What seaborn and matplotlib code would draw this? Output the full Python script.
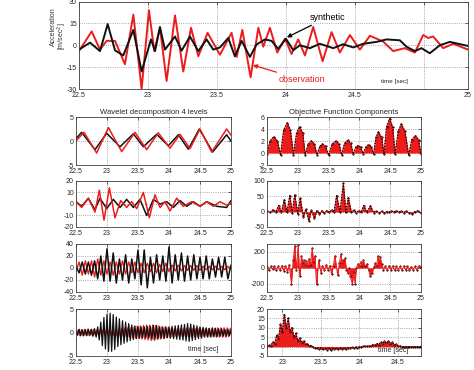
import numpy as np
import matplotlib
matplotlib.use('Agg')
import matplotlib.pyplot as plt
import seaborn as sns

# ---- top panel: acceleration (extrema)
t_obs = [22.500, 22.592, 22.652, 22.700, 22.761, 22.833, 22.894, 22.954, 23.007, 23.046,
         23.087, 23.135, 23.196, 23.256, 23.312, 23.365, 23.432, 23.522, 23.606, 23.643,
         23.684, 23.744, 23.800, 23.836, 23.884, 23.937, 23.993, 24.041, 24.089, 24.138,
         24.198, 24.266, 24.331, 24.391, 24.464, 24.536, 24.609, 24.705, 24.778, 24.862,
         24.935, 24.995, 25.031, 25.068, 25.140, 25.213, 25.321]
a_obs = [-4, 9.5, -3, 3, 3, -13, 21, -30, 24, -4,
         12, -24.5, 20.5, -18, 12, -7.5, 8.5, -6.5, 8.5, -8,
         10.5, -22, 12, -1, 12, -5, 4.5, -6, 4, -7,
         12.5, -11, 9, -5, 7, -3, 6.5, 2.5, -4, -2,
         -5, 7, 5, 6, -2, 1, -3]
t_syn = [22.500, 22.580, 22.652, 22.708, 22.761, 22.821, 22.894, 22.954, 23.022, 23.051,
         23.087, 23.123, 23.196, 23.244, 23.304, 23.365, 23.425, 23.473, 23.522, 23.582,
         23.630, 23.679, 23.739, 23.787, 23.848, 23.896, 23.944, 24.000, 24.053, 24.101,
         24.174, 24.246, 24.343, 24.415, 24.488, 24.560, 24.657, 24.729, 24.826, 24.874,
         24.935, 24.983, 25.043, 25.116, 25.188, 25.321]
a_syn = [-3, 1.8, -4, 14.5, -3.5, -7, 10.5, -18, 4, -4,
         12.5, -3, 6, -3.7, 6, -4, 4, -3, -1.5, 5,
         -7.6, 3, -8, 0.5, 4, 3, -2.5, 4.5, -3.4, 0,
         -2, 1, -2, 0.7, -1.5, 1, 2.3, 4, 3.4, -1,
         -4, -2, -5.5, 0, 2.3, -0.5]

# ---- wavelet levels (left column)
t_w1_obs = [22.500, 22.629, 22.833, 23.022, 23.237, 23.452, 23.640, 23.828, 24.016, 24.177,
            24.339, 24.500, 24.688, 24.930, 25.000]
w1_obs = [0, 1.8, -2.5, 2.8, -2.2, 1.8, -1.8, 1.7, -1.5, 1.4, -1.6, 2.5, -2.3, 2.5, 1.2]
t_w1_syn = [22.500, 22.591, 22.806, 22.995, 23.210, 23.425, 23.586, 23.801, 23.989, 24.151,
            24.312, 24.489, 24.704, 24.930, 25.000]
w1_syn = [0.5, 1.8, -1.8, 1.6, -1.2, 1.5, -1.2, 1.4, -1.0, 1.3, -1.7, 2.5, -2.3, 1.3, 0]

t_w2_obs = [22.500, 22.591, 22.699, 22.806, 22.876, 22.952, 23.038, 23.129, 23.220, 23.317,
            23.398, 23.478, 23.586, 23.683, 23.774, 23.855, 23.935, 24.016, 24.124, 24.231,
            24.366, 24.500, 24.608, 24.715, 24.823, 24.930, 25.000]
w2_obs = [2, -3, 5, -7, 12, -14, 14, -12, 3, -3,
          2, -4, 10, -12, 8, -3, 2, -6, 5, -2,
          2, -2, 2, -2, 2, -1, 1]
t_w2_syn = [22.500, 22.591, 22.699, 22.806, 22.887, 22.995, 23.102, 23.210, 23.317, 23.425,
            23.532, 23.640, 23.747, 23.855, 23.962, 24.070, 24.177, 24.285, 24.392, 24.500,
            24.608, 24.769, 24.930, 25.000]
w2_syn = [2, -2, 5, -5, 5, -4, 4, -3, 4, -3,
          4, -10, 4, 0, 2, -3, 3, -2, 2, -2,
          2, -2, -3, 3]

t_w3 = np.linspace(22.5, 25.0, 51)
w3_syn = [3, -8, 10, -10, 10, -12, 12, -18, 20, -22,
          32, -22, 25, -25, 15, -20, 22, -25, 15, -18,
          30, -28, 30, -33, 18, -25, 22, -20, 20, -22,
          35, -25, 22, -20, 25, -22, 20, -20, 22, -18,
          18, -18, 20, -18, 15, -15, 18, -15, 18, -18, 5]
w3_obs = [-5, 10, -12, 12, -10, 12, -15, 15, -12, 12,
          -10, 10, -12, 10, -10, 12, -10, 10, -8, 10,
          -8, 8, -8, 8, -6, 8, -8, 6, -6, 8,
          -6, 5, -5, 5, -5, 4, -4, 4, -4, 4,
          -4, 3, -3, 3, -3, 3, -3, 3, -3, 3, -2]

t_w4_syn = np.linspace(22.5, 25.0, 101)
t_w4_obs = np.linspace(22.5125, 25.0125, 101)
w4_syn = [0.3, -0.6, 0.7, -0.7, 0.6, -0.7, 0.6, -0.7, 0.7, -0.6, 0.7, -0.8, 0.8, -1.0, 1.2,
          -1.6, 2.2, -2.8, 3.2, -3.5, 3.9, -4.0, 4.1, -4.0, 3.8, -3.6, 3.3, -3.0, 2.9, -2.6,
          2.5, -2.3, 2.2, -2.0, 1.9, -1.7, 1.6, -1.5, 1.4, -1.3, 1.3, -1.2, 1.2, -1.1, 1.2,
          -1.2, 1.3, -1.2, 1.3, -1.4, 1.5, -1.4, 1.5, -1.3, 1.2, -1.2, 1.1, -1.2, 1.2, -1.1,
          1.2, -1.2, 1.3, -1.3, 1.4, -1.4, 1.5, -1.5, 1.6, -1.6, 1.7, -1.8, 1.9, -1.9, 1.8,
          -1.7, 1.6, -1.5, 1.4, -1.3, 1.2, -1.2, 1.1, -1.0, 1.0, -1.0, 0.9, -1.0, 1.0, -0.9,
          0.9, -0.9, 0.8, -0.8, 0.8, -0.8, 0.7, -0.8, 0.7, -0.7, 0.5]
w4_obs = [-0.3, 0.6, -0.7, 0.6, -0.7, 0.7, -0.6, 0.7, -0.7, 0.6, -0.7, 0.7, -0.6, 0.6, -0.6,
          0.5, -0.5, 0.6, -0.6, 0.5, -0.6, 0.6, -0.6, 0.6, -0.6, 0.7, -0.7, 0.7, -0.8, 0.8,
          -0.8, 0.9, -0.9, 1.0, -1.0, 1.1, -1.1, 1.2, -1.2, 1.3, -1.3, 1.4, -1.4, 1.5, -1.5,
          1.6, -1.6, 1.6, -1.7, 1.6, -1.7, 1.5, -1.5, 1.4, -1.4, 1.3, -1.3, 1.2, -1.1, 1.0,
          -1.0, 0.9, -0.9, 0.8, -0.8, 0.8, -0.8, 0.8, -0.8, 0.8, -0.8, 0.9, -0.9, 0.9, -0.9,
          0.9, -0.9, 0.9, -0.9, 0.9, -0.9, 0.8, -0.8, 0.8, -0.8, 0.8, -0.8, 0.8, -0.9, 0.9,
          -1.0, 1.0, -1.0, 1.0, -1.0, 1.0, -1.0, 1.0, -0.9, 0.9, -0.6]

# ---- objective function components (right column)
t_f1 = [22.50, 22.55, 22.61, 22.67, 22.72, 22.77, 22.83, 22.88, 22.93, 22.98,
        23.03, 23.08, 23.12, 23.17, 23.22, 23.27, 23.31, 23.36, 23.40, 23.45,
        23.50, 23.56, 23.62, 23.67, 23.71, 23.76, 23.81, 23.86, 23.90, 23.94,
        23.98, 24.02, 24.06, 24.11, 24.15, 24.19, 24.23, 24.27, 24.31, 24.36,
        24.40, 24.44, 24.49, 24.54, 24.58, 24.63, 24.68, 24.74, 24.80, 24.85,
        24.91, 24.96, 25.00]
f1 = [-0.2, 2.0, 2.7, 2.0, -0.4, 3.8, 5.0, 3.8, -0.3, 3.3,
      4.4, 3.3, -0.3, 1.5, 2.0, 1.5, -0.3, 1.1, 1.5, 1.1,
      -0.4, 1.5, 2.0, 1.5, -0.3, 1.6, 2.1, 1.6, -0.2, 0.95,
      1.25, 0.95, -0.1, 1.05, 1.4, 1.05, -0.2, 2.6, 3.5, 2.6,
      -0.2, 4.3, 5.7, 4.3, -0.2, 3.6, 4.8, 3.6, -0.4, 2.2,
      2.9, 2.2, -0.2]

t_f2 = [22.50, 22.55, 22.60, 22.645, 22.69, 22.735, 22.78, 22.825, 22.87, 22.91,
        22.95, 23.00, 23.04, 23.09, 23.13, 23.18, 23.22, 23.27, 23.31, 23.35,
        23.39, 23.43, 23.47, 23.51, 23.55, 23.59, 23.63, 23.685, 23.74, 23.78,
        23.82, 23.87, 23.91, 23.95, 23.99, 24.03, 24.07, 24.12, 24.18, 24.23,
        24.27, 24.32, 24.36, 24.40, 24.44, 24.48, 24.52, 24.56, 24.60, 24.64,
        24.68, 24.72, 24.76, 24.80, 24.86, 24.90, 24.95, 25.00]
f2 = [2, -2, 6, -1, 20, -2, 38, -2, 52, -4,
      55, -6, 45, -19, 8, -30, 4, -22, 3, -8,
      2, -4, 3, -2, 5, -1, 52, -1, 92, -2,
      45, -2, 4, -3, 3, -2, 20, -2, 18, -3,
      2, -4, 1, -5, 0, -2, 2, -1, 3, -2,
      2, -3, 2, -4, -7, 0, 2, -4]

t_f3 = [22.50, 22.53, 22.56, 22.59, 22.62, 22.65, 22.68, 22.71, 22.74, 22.77,
        22.80, 22.83, 22.86, 22.897, 22.925, 22.951, 22.975, 23.005, 23.03, 23.06,
        23.08, 23.10, 23.12, 23.14, 23.16, 23.18, 23.205, 23.234, 23.255, 23.277,
        23.304, 23.34, 23.375, 23.40, 23.43, 23.46, 23.49, 23.52, 23.549, 23.575,
        23.603, 23.647, 23.675, 23.70, 23.72, 23.74, 23.766, 23.79, 23.81, 23.83,
        23.85, 23.886, 23.91, 23.93, 23.95, 23.973, 24.00, 24.027, 24.045, 24.065,
        24.09, 24.12, 24.15, 24.174, 24.21, 24.235, 24.255, 24.28, 24.30, 24.32,
        24.337, 24.364, 24.39, 24.42, 24.45, 24.48, 24.51, 24.54, 24.57, 24.60,
        24.63, 24.66, 24.69, 24.72, 24.75, 24.78, 24.81, 24.84, 24.87, 24.90,
        24.93, 24.96, 25.00]
f3 = [10, -20, 20, -15, 25, -25, 20, -30, 30, -35,
      25, -50, 40, -200, 100, 280, -30, 290, -100, 150,
      60, 100, 40, 90, 20, 110, 40, 250, 80, 150,
      -200, 100, -60, 30, -30, 40, -20, 30, -80, 20,
      150, -90, 60, 170, 60, 100, 120, -20, -60, 0,
      -100, -200, -50, -200, 0, 50, 20, 80, 30, 100,
      20, 50, -20, -100, -60, 10, 60, 20, 150, 60,
      140, 50, -20, 20, -30, 30, -20, 25, -30, 20,
      -25, 20, -30, 25, -20, 20, -30, 15, -25, 20,
      -20, 25, 10]

t_f4 = [22.80, 22.825, 22.85, 22.875, 22.90, 22.925, 22.95, 22.975, 23.00, 23.025,
        23.05, 23.075, 23.10, 23.125, 23.15, 23.175, 23.20, 23.225, 23.25, 23.275,
        23.30, 23.325, 23.35, 23.375, 23.40, 23.425, 23.45, 23.475, 23.50, 23.525,
        23.55, 23.575, 23.60, 23.625, 23.65, 23.675, 23.70, 23.725, 23.75, 23.775,
        23.80, 23.825, 23.85, 23.875, 23.90, 23.925, 23.95, 23.975, 24.00, 24.025,
        24.05, 24.075, 24.10, 24.125, 24.15, 24.175, 24.20, 24.225, 24.25, 24.275,
        24.30, 24.325, 24.35, 24.375, 24.40, 24.425, 24.45, 24.475, 24.50, 24.525,
        24.55, 24.575, 24.60, 24.625, 24.65, 24.675, 24.70, 24.725, 24.75, 24.775, 24.80]
f4 = [0.3, 0.8, 0.4, 2.5, 1.5, 6.0, 4.0, 12.0, 8.0, 17.0,
      10.0, 15.0, 8.0, 10.0, 5.0, 7.0, 3.0, 4.5, 2.0, 3.0,
      1.2, 1.5, 0.4, 0.5, -0.3, -0.8, -0.5, -1.2, -0.8, -1.5,
      -1.0, -1.6, -1.0, -1.7, -1.0, -1.5, -1.0, -1.5, -0.8, -1.4,
      -0.8, -1.2, -0.6, -1.0, -0.4, -0.7, -0.3, -0.5, -0.1, -0.2,
      0.1, 0.2, 0.1, 0.4, 0.3, 1.0, 0.6, 1.6, 1.0, 2.3,
      1.5, 2.8, 1.8, 3.0, 1.6, 2.3, 1.0, 1.2, 0.3, 0.3,
      0, 0, 0, 0, 0, 0, 0, 0, 0, 0, 0]

RED = '#ec1c1c'
BLK = '#111111'

sns.set_style('white')
plt.rcParams['font.family'] = ['Liberation Sans', 'DejaVu Sans']

W, H = 474, 370
fig = plt.figure(figsize=(W / 100, H / 100), dpi=100)


def box(x0, y0, x1, y1):
    # pixel box of the reference -> figure fraction
    return fig.add_axes([x0 / W, 1 - y1 / H, (x1 - x0) / W, (y1 - y0) / H])


def style(ax, xlim, ylim, yticks, xticks, xlabels):
    ax.set_xlim(xlim)
    ax.set_ylim(ylim)
    ax.set_yticks(yticks)
    ax.set_yticklabels([str(v) for v in yticks])
    ax.set_xticks(xticks)
    ax.set_xticklabels(xlabels)
    ax.grid(True, ls=':', color='0.55', lw=0.6)
    ax.tick_params(direction='in', length=2, width=0.5, labelsize=5, pad=1.5,
                   top=True, right=True, colors='0.15')
    ax.tick_params(axis='x', pad=2.5)
    for s in ax.spines.values():
        s.set_linewidth(0.6)
        s.set_color('0.25')
    ax.set_xlabel('')
    ax.set_ylabel('')


def line(ax, x, y, c, lw):
    sns.lineplot(x=x, y=y, ax=ax, color=c, lw=lw, estimator=None, sort=False)


def objective(ax, x, y, outline=True):
    ax.fill_between(x, y, 0, color=RED, lw=0)
    ax.vlines(x, 0, y, color=RED, lw=0.6)
    line(ax, x, y, RED, 0.7)
    if outline:
        ax.plot(x, y, color='black', ls=(0, (1, 1.3)), lw=0.9)
    sns.scatterplot(x=x, y=y, ax=ax, color='black', s=2.5, linewidth=0)


ticks = [22.5, 23, 23.5, 24, 24.5, 25]
labs = ['22.5', '23', '23.5', '24', '24.5', '25']

# top panel (its last label sits at the right edge in the source)
ax = box(79, 1.5, 468, 89)
line(ax, t_obs, a_obs, RED, 1.4)
line(ax, t_syn, a_syn, BLK, 1.4)
style(ax, (22.5, 25.32), (-30, 30), [-30, -15, 0, 15, 30],
      ticks + [25.32], labs[:-1] + ['', '25'])
ax.annotate('synthetic', xy=(24.007, 5.4), xytext=(24.17, 19), fontsize=6.5, color='black',
            va='center', arrowprops=dict(arrowstyle='-|>', color='black', lw=0.9,
                                         mutation_scale=6, shrinkA=0, shrinkB=0))
ax.annotate('observation', xy=(23.76, -13.6), xytext=(23.95, -23.8), fontsize=6.5, color=RED,
            va='center', arrowprops=dict(arrowstyle='-|>', color=RED, lw=0.9,
                                         mutation_scale=6, shrinkA=0, shrinkB=0))
ax.text(0.81, 0.07, 'time [sec]', transform=ax.transAxes, fontsize=4.5, ha='center')
fig.text(53 / W, 1 - 27 / H, 'Acceleration', rotation=90, fontsize=5, color='0.2',
         ha='center', va='center')
fig.text(62 / W, 1 - 36 / H, '[m/sec$^2$]', rotation=90, fontsize=5, color='0.2',
         ha='center', va='center')

rows = [(117, 165), (181, 227), (244, 292), (309, 356)]

# left column: wavelet levels
ax = box(76, rows[0][0], 231, rows[0][1])
line(ax, t_w1_syn, w1_syn, BLK, 1.1)
line(ax, t_w1_obs, w1_obs, RED, 1.1)
style(ax, (22.5, 25), (-5, 5), [-5, 0, 5], ticks, labs)
ax.set_title('Wavelet decomposition 4 levels', fontsize=5.5, pad=2.5, color='0.15')

ax = box(76, rows[1][0], 231, rows[1][1])
line(ax, t_w2_syn, w2_syn, BLK, 1.1)
line(ax, t_w2_obs, w2_obs, RED, 1.1)
style(ax, (22.5, 25), (-20, 20), [-20, -10, 0, 10, 20], ticks, labs)

ax = box(76, rows[2][0], 231, rows[2][1])
line(ax, t_w3, w3_obs, RED, 1.0)
line(ax, t_w3, w3_syn, BLK, 1.1)
style(ax, (22.5, 25), (-40, 40), [-40, -20, 0, 20, 40], ticks, labs)

ax = box(76, rows[3][0], 231, rows[3][1])
line(ax, t_w4_obs, w4_obs, RED, 0.9)
line(ax, t_w4_syn, w4_syn, BLK, 0.9)
style(ax, (22.5, 25), (-5, 5), [-5, 0, 5], ticks, labs)
ax.text(0.82, 0.1, 'time [sec]', transform=ax.transAxes, fontsize=5, ha='center')

# right column: objective function components
ax = box(267, rows[0][0], 421, rows[0][1])
objective(ax, t_f1, f1)
style(ax, (22.5, 25), (-2, 6), [-2, 0, 2, 4, 6], ticks, labs)
ax.set_title('Objective Function Components', fontsize=5.5, pad=2.5, color='0.15')

ax = box(267, rows[1][0], 421, rows[1][1])
objective(ax, t_f2, f2)
style(ax, (22.5, 25), (-50, 100), [-50, 0, 50, 100], ticks, labs)

ax = box(267, rows[2][0], 421, rows[2][1])
objective(ax, t_f3, f3, outline=False)
style(ax, (22.5, 25), (-300, 300), [-200, 0, 200], ticks, labs)

ax = box(267, rows[3][0], 421, rows[3][1])
objective(ax, t_f4, f4)
style(ax, (22.8, 24.8), (-5, 20), [-5, 0, 5, 10, 15, 20], [23, 23.5, 24, 24.5],
      ['23', '23.5', '24', '24.5'])
ax.text(0.82, 0.08, 'time [sec]', transform=ax.transAxes, fontsize=5, ha='center')

fig.savefig('out.png', dpi=100)
